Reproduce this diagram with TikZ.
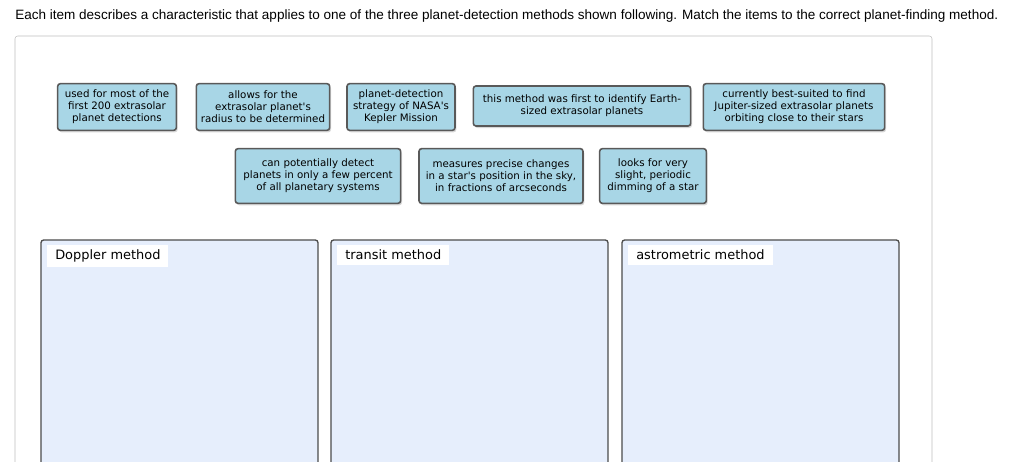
\documentclass[tikz,border=0pt]{standalone}
\usepackage{fontspec}
\setmainfont{Liberation Sans}
\newfontfamily\boxfont{DejaVu Sans}
\usetikzlibrary{positioning,shadows}
\definecolor{itemblue}{RGB}{168,214,230}
\definecolor{zonefill}{RGB}{230,238,252}
\tikzset{
  item/.style={draw=gray!70!black, line width=1.2pt, fill=itemblue, rounded corners=2pt,
    align=center, font=\boxfont\fontsize{7.7}{8.9}\selectfont, inner sep=1pt,
    drop shadow={shadow xshift=1pt, shadow yshift=-1.5pt, fill=gray!60}},
  zone/.style={draw=gray!60!black, line width=1pt, fill=zonefill, rounded corners=2pt},
  tab/.style={fill=white, anchor=north west, font=\boxfont\fontsize{9.7}{11}\selectfont,
    inner xsep=6pt, inner ysep=3.5pt}
}
\begin{document}
\begin{tikzpicture}[x=0.75pt,y=-0.75pt]
\useasboundingbox (0,0) rectangle (1024,461);
% Instructions
\node[anchor=west, font=\fontsize{10.15}{12}\selectfont, inner xsep=0pt] (intro) at (15,16)
  {Each item describes a characteristic that applies to one of the three planet-detection methods shown following. Match the items to the correct planet-finding method.};
% Panel
\draw[gray!50, rounded corners=2pt] (15,470) -- (15,36) -- (932,36) -- (932,470);
% Items
\node[item, minimum width=89pt, minimum height=35pt] (used) at (117,107) {used for most of the\\first 200 extrasolar\\planet detections};
\node[item, minimum width=100pt, minimum height=35pt] (radius) at (263,107) {allows for the\\extrasolar planet's\\radius to be determined};
\node[item, minimum width=81pt, minimum height=35pt] (kepler) at (401,107) {planet-detection\\strategy of NASA's\\Kepler Mission};
\node[item, minimum width=163pt, minimum height=30pt] (earth) at (582,106) {this method was first to identify Earth-\\sized extrasolar planets};
\node[item, minimum width=136pt, minimum height=35pt] (jupiter) at (794,107) {currently best-suited to find\\Jupiter-sized extrasolar planets\\orbiting close to their stars};
\node[item, minimum width=124pt, minimum height=41pt] (few) at (318,176) {can potentially detect\\planets in only a few percent\\of all planetary systems};
\node[item, minimum width=123pt, minimum height=41pt] (precise) at (501,176) {measures precise changes\\in a star's position in the sky,\\in fractions of arcseconds};
\node[item, minimum width=80pt, minimum height=41pt] (dimming) at (653,176) {looks for very\\slight, periodic\\dimming of a star};
% Drop zones
\foreach \x/\name/\label in {41/doppler/Doppler method, 331/transit/transit method, 622/astro/astrometric method} {
  \draw[zone] (\x,470) -- (\x,240) -- (\x+277,240) -- (\x+277,470);
  \node[tab] (\name) at (\x+6,245) {\label};
}
\end{tikzpicture}
\end{document}
